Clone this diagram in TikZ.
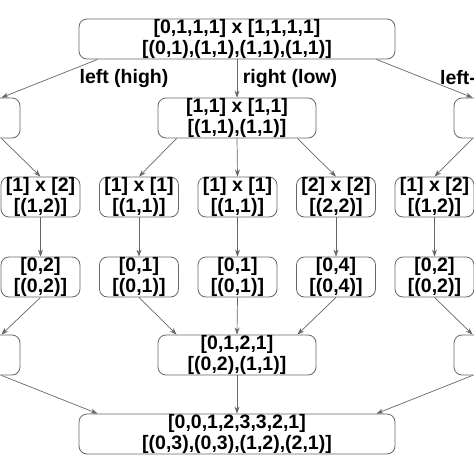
\documentclass[tikz,border=0pt]{standalone}
\usepackage{fontspec}
\setmainfont{Liberation Sans}
\usetikzlibrary{arrows.meta}
\tikzset{
    lat/.cd,
    box/.style={draw=black!60,line width=0.8pt,rounded corners=8pt,minimum height=40pt,inner sep=0pt,align=center,font=\fontsize{19.5}{21}\selectfont\bfseries},
    wide/.style={lat/box,minimum width=316pt},
    mid/.style={lat/box,minimum width=158pt},
    small/.style={lat/box,minimum width=79pt},
    edge/.style={draw=black!60,line width=0.7pt,-{Stealth[length=7pt,width=5pt]}},
    branch/.style={inner sep=0pt,font=\fontsize{19.5}{21}\selectfont\bfseries},
}

\begin{document}
\begin{tikzpicture}[x=1pt,y=-1pt]
      \clip (0,0) rectangle (474,474);
      \node[lat/wide] (top) at (237,39) {[0,1,1,1] x [1,1,1,1]\\{}[(0,1),(1,1),(1,1),(1,1)]};

      \node[lat/mid] (hl) at (-59,118) {};
      \node[lat/mid] (hm) at (237,118) {[1,1] x [1,1]\\{}[(1,1),(1,1)]};
      \node[lat/mid] (hr) at (533,118) {};

      \node[lat/branch] (lh) at (124,78) {left (high)};
      \node[lat/branch] (rl) at (290,78) {right (low)};
      \node[lat/branch,anchor=west] (lr) at (440,78) {left-};

      \draw[lat/edge] ([xshift=19pt]top.south west) -- ([xshift=-19pt]hl.north east);
      \draw[lat/edge] (top.south) -- (hm.north);
      \draw[lat/edge] ([xshift=-19pt]top.south east) -- ([xshift=19pt]hr.north west);

      \foreach[count=\i] \ta/\tb/\tc/\td in {
          {[1] x [2]}/{[(1,2)]}/{[0,2]}/{[(0,2)]},
          {[1] x [1]}/{[(1,1)]}/{[0,1]}/{[(0,1)]},
          {[1] x [1]}/{[(1,1)]}/{[0,1]}/{[(0,1)]},
          {[2] x [2]}/{[(2,2)]}/{[0,4]}/{[(0,4)]},
          {[1] x [2]}/{[(1,2)]}/{[0,2]}/{[(0,2)]}} {
        \node[lat/small] (a\i) at ({-58+98.5*\i},197) {\ta\\{}\tb};
        \node[lat/small] (b\i) at ({-58+98.5*\i},277) {\tc\\{}\td};
        \draw[lat/edge] (a\i) -- (b\i);
      }

      \draw[lat/edge] ([xshift=-19pt]hl.south east) -- (a1.north);
      \draw[lat/edge] ([xshift=19pt]hm.south west) -- (a2.north);
      \draw[lat/edge] (hm.south) -- (a3.north);
      \draw[lat/edge] ([xshift=-19pt]hm.south east) -- (a4.north);
      \draw[lat/edge] ([xshift=19pt]hr.south west) -- (a5.north);

      \node[lat/mid] (ml) at (-59,355) {};
      \node[lat/mid] (mm) at (237,355) {[0,1,2,1]\\{}[(0,2),(1,1)]};
      \node[lat/mid] (mr) at (533,355) {};

      \draw[lat/edge] (b1.south) -- ([xshift=-19pt]ml.north east);
      \draw[lat/edge] (b2.south) -- ([xshift=19pt]mm.north west);
      \draw[lat/edge] (b3.south) -- (mm.north);
      \draw[lat/edge] (b4.south) -- ([xshift=-19pt]mm.north east);
      \draw[lat/edge] (b5.south) -- ([xshift=19pt]mr.north west);

      \node[lat/wide] (bot) at (237,434) {[0,0,1,2,3,3,2,1]\\{}[(0,3),(0,3),(1,2),(2,1)]};

      \draw[lat/edge] ([xshift=-19pt]ml.south east) -- ([xshift=19pt]bot.north west);
      \draw[lat/edge] (mm.south) -- (bot.north);
      \draw[lat/edge] ([xshift=19pt]mr.south west) -- ([xshift=-19pt]bot.north east);
\end{tikzpicture}
\end{document}
